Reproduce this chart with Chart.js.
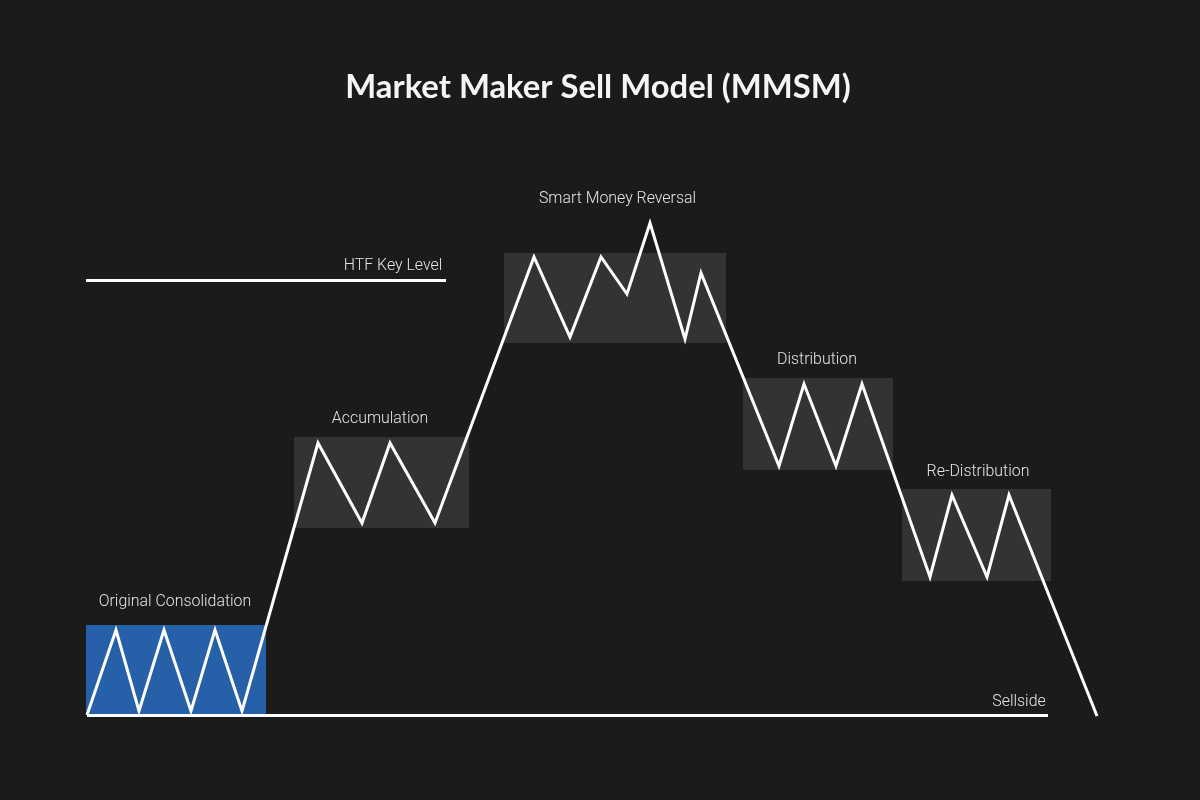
<!DOCTYPE html>
<html>
<head>
<meta charset="utf-8">
<title>Market Maker Sell Model (MMSM)</title>
<script src="https://cdn.jsdelivr.net/npm/chart.js@4/dist/chart.umd.min.js"></script>
<style>
    html, body { margin: 0; padding: 0; background: #1b1b1b; }
    canvas { display: block; }
</style>
</head>
<body>
<canvas id="chart" width="1200" height="800"></canvas>
<script>
// Price path
const pathX = [87, 116, 139, 164, 191, 215, 242, 318, 362, 390, 435, 534, 570, 601, 627, 650, 685, 701, 779, 804, 836, 862, 930, 952, 987, 1009, 1097];
const pathY = [715, 630, 711, 630, 711, 630, 711, 443, 523, 443, 523, 257, 337, 257, 294, 223, 339, 273, 466, 384, 466, 384, 577, 495, 577, 495, 716];

// Zones
const zoneNames = ['Original Consolidation', 'Accumulation', 'Smart Money Reversal', 'Distribution', 'Re-Distribution'];
const zoneLeft = [86, 294, 504, 743, 902];
const zoneRight = [266, 469, 726, 893, 1051];
const zoneTop = [625, 437, 253, 378, 489];
const zoneBottom = [714, 528, 343, 470, 581];
const zoneColors = ['#2560a8', '#333333', '#333333', '#333333', '#333333'];

// Horizontal levels
const levelNames = ['HTF Key Level', 'Sellside'];
const levelStart = [86, 87];
const levelEnd = [446, 1048];
const levelY = [280.5, 715.5];

// Text labels
const labelX = [175, 380, 617.5, 817, 978, 393, 1019];
const labelY = [602, 419, 199, 360, 472, 266, 702];
const labelText = [...zoneNames, ...levelNames];

const lineDatasets = [
    {
        label: 'Price',
        data: pathX.map((x, i) => ({ x, y: pathY[i] })),
        borderColor: '#ffffff',
        borderWidth: 3,
        borderJoinStyle: 'miter',
        pointRadius: 0,
        showLine: true,
        tension: 0,
        fill: false,
    },
    ...levelNames.map((name, i) => ({
        label: name,
        data: [{ x: levelStart[i], y: levelY[i] }, { x: levelEnd[i], y: levelY[i] }],
        borderColor: '#ffffff',
        borderWidth: 3,
        pointRadius: 0,
        showLine: true,
        fill: false,
    })),
];

const zoneDatasets = zoneNames.map((name, i) => ({
    label: name,
    data: [
        { x: zoneLeft[i], y: zoneTop[i] },
        { x: zoneRight[i], y: zoneTop[i] },
        { x: zoneRight[i], y: zoneBottom[i] },
        { x: zoneLeft[i], y: zoneBottom[i] },
        { x: zoneLeft[i], y: zoneTop[i] },
    ],
    borderWidth: 0,
    borderColor: 'transparent',
    backgroundColor: zoneColors[i],
    pointRadius: 0,
    showLine: true,
    fill: 'shape',
}));

// Etiquetas de texto sobre las zonas
const textLabels = {
    id: 'textLabels',
    afterDatasetsDraw(chart) {
        const { ctx, scales } = chart;
        ctx.save();
        ctx.font = '300 15.9px Roboto, sans-serif';
        ctx.fillStyle = '#e4e4e4';
        ctx.textAlign = 'center';
        ctx.textBaseline = 'middle';
        labelText.forEach((text, i) => {
            ctx.fillText(text, scales.x.getPixelForValue(labelX[i]), scales.y.getPixelForValue(labelY[i]));
        });
        ctx.restore();
    },
};

new Chart(document.getElementById('chart').getContext('2d'), {
    type: 'scatter',
    data: { datasets: [...lineDatasets, ...zoneDatasets] },
    plugins: [textLabels],
    options: {
        responsive: false,
        animation: false,
        layout: { padding: { right: 4 } },
        plugins: {
            legend: { display: false },
            tooltip: { enabled: false },
            title: {
                display: true,
                text: 'Market Maker Sell Model (MMSM)',
                color: '#f5f5f5',
                font: { family: 'Lato', size: 32.8, weight: 'bold', lineHeight: 1.2 },
                padding: { top: 68, bottom: 12.64 },
            },
        },
        scales: {
            x: { type: 'linear', min: 0, max: 1196, display: false },
            y: { type: 'linear', min: 120, max: 800, reverse: true, display: false },
        },
    },
});
</script>
</body>
</html>
